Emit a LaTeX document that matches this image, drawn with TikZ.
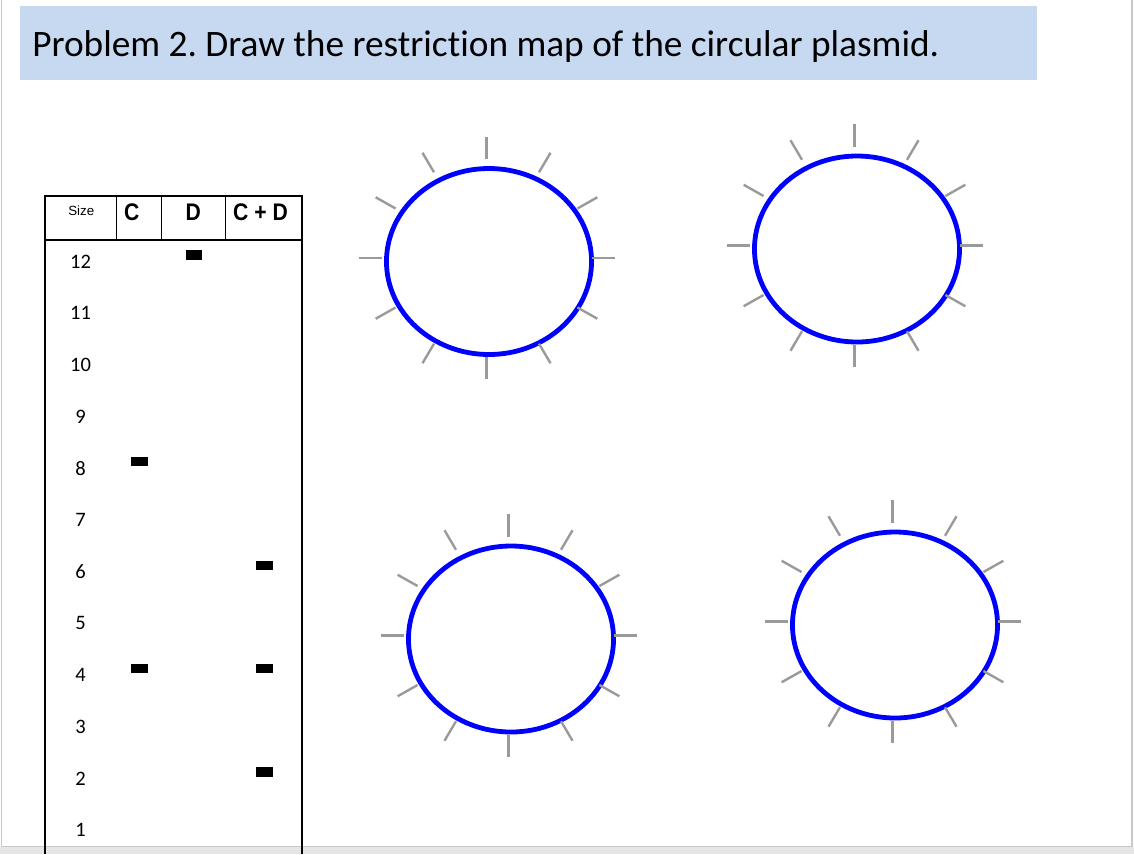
\documentclass[tikz,border=0pt]{standalone}
\usepackage{fontspec}
\setmainfont{Carlito}[Ligatures=NoCommon]
\newfontfamily\arialfont{Liberation Sans}
\usetikzlibrary{calc}
\frenchspacing

\definecolor{bannerblue}{HTML}{C6D9F1}
\definecolor{cutgray}{HTML}{9A9A9A}
\definecolor{pagegray}{HTML}{E6E6E6}
\definecolor{edgegray}{HTML}{C8C8C8}

\tikzset{
	plasmid/.style={draw=blue, line width=3.6pt},
	cutmark/.style={draw=cutgray, line width=1.8pt},
	band/.style={fill=black, inner sep=0pt, minimum width=12.5pt, minimum height=6.8pt},
	lanehead/.style={font=\arialfont\bfseries\fontsize{18}{19}\selectfont, inner sep=0pt, xscale=0.88, transform shape},
	sizelabel/.style={font=\fontsize{15.4}{16}\selectfont, inner sep=0pt},
	gridline/.style={line width=1.1pt}
}

\begin{document}
\begin{tikzpicture}[x=0.75pt,y=-0.75pt]
	\useasboundingbox (0,0) rectangle (1134,854);
	% page edge
	\fill[pagegray] (0,847) rectangle (1134,854);
	\draw[edgegray, line width=1pt] (1.5,0) -- (1.5,846.5) -- (1132,846.5) -- (1132,0);
	% title
	\fill[bannerblue] (20,6) rectangle (1037,80);
	\node[anchor=base west, inner sep=0pt, font=\fontsize{28}{30}\selectfont] (title) at (32,56)
		{Problem 2. Draw the restriction map of the circular plasmid.};
	% gel table
	\draw[gridline] (45,854) -- (45,196) -- (302,196) -- (302,854);
	\draw[gridline] (45,240) -- (302,240);
	\foreach \x in {116.7,161.7,225.7}
		\draw[gridline] (\x,196) -- (\x,240);
	\node[font=\arialfont\fontsize{10}{11}\selectfont, inner sep=0pt] (size) at (81.3,210.7) {Size};
	\node[lanehead] (headC) at (131.7,212.5) {C};
	\node[lanehead] (headD) at (193.3,212.5) {D};
	\node[lanehead] (headCD) at (260.5,212.5) {C + D};
	\coordinate (laneC) at (139.5,212);
	\coordinate (laneD) at (194,212);
	\coordinate (laneCD) at (264.3,212);
	\foreach \n in {1,...,12}
		\node[sizelabel] (s\n) at (80.5,{261.5+(12-\n)*51.7}) {\n};
	% bands
	\node[band, yshift=4.9pt] (d12) at (laneD |- s12) {};
	\node[band, yshift=4.9pt] (c8) at (laneC |- s8) {};
	\node[band, yshift=4.9pt] (c4) at (laneC |- s4) {};
	\node[band, yshift=4.9pt] (cd6) at (laneCD |- s6) {};
	\node[band, yshift=4.9pt] (cd4) at (laneCD |- s4) {};
	\node[band, yshift=4.9pt] (cd2) at (laneCD |- s2) {};
	% plasmid circles
	\foreach \cx/\cy in {489/261.5, 857/249, 511/639, 895/625} {
		\draw[plasmid] (\cx,\cy) ellipse [x radius=76.9pt, y radius=69.75pt];
		\begin{scope}[shift={({\cx-2.5},{\cy-3.5})}]
			\foreach \a in {0,30,...,330}
				\draw[cutmark] (\a:78.75pt and 74.25pt) -- (\a:96pt and 91.1pt);
		\end{scope}
	}
\end{tikzpicture}
\end{document}
